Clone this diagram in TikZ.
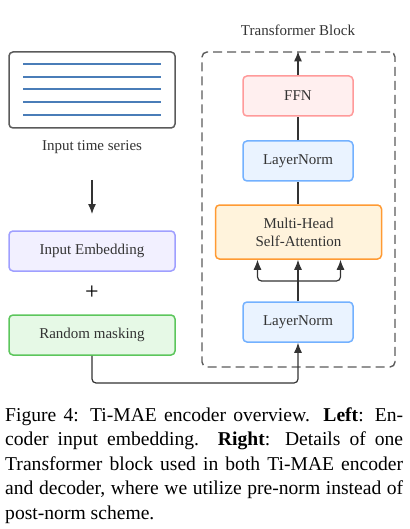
\documentclass[tikz,border=0pt]{standalone}
\usepackage{fontspec}
\usepackage{xcolor}
\usepackage{tikz}
\setmainfont{Liberation Serif}
\newfontfamily\captionfont{Liberation Serif}
\definecolor{framegray}{RGB}{90, 90, 90}
\definecolor{lineblue}{RGB}{74, 125, 184}
\definecolor{inkgray}{RGB}{51, 51, 51}
\definecolor{embedfill}{RGB}{242, 240, 255}
\definecolor{embeddraw}{RGB}{159, 159, 255}
\definecolor{maskfill}{RGB}{230, 249, 230}
\definecolor{maskdraw}{RGB}{92, 198, 92}
\definecolor{ffnfill}{RGB}{255, 239, 239}
\definecolor{ffndraw}{RGB}{255, 154, 154}
\definecolor{normfill}{RGB}{234, 243, 255}
\definecolor{normdraw}{RGB}{115, 177, 255}
\definecolor{attnfill}{RGB}{255, 243, 220}
\definecolor{attndraw}{RGB}{255, 154, 51}
\usetikzlibrary{arrows.meta,calc}

\begin{document}
\begin{tikzpicture}[
    x=1pt, y=-1pt,
    flow/.style={-{Latex[length=10pt,width=8pt]}, line width=1.2pt, inkgray},
    link/.style={line width=1.2pt, inkgray},
    block/.style={rectangle, rounded corners=4pt, line width=1.5pt, minimum width=166pt, minimum height=40pt, align=center, font=\fontsize{15}{18}\selectfont, text=inkgray},
    seriesline/.style={line width=1.4pt, lineblue}
]
    \useasboundingbox (0,0) rectangle (409,529);

    % Left: input embedding
    \node[block, draw=framegray, minimum height=76pt] (series) at (92,90) {};
    \foreach \y in {64,77,89,102,115}
        \draw[seriesline] (23,\y) -- (161,\y);
    \node[font=\fontsize{15}{18}\selectfont, text=inkgray] (serieslabel) at (92,147) {Input time series};

    \coordinate (arrtop) at (92,180);
    \coordinate (arrend) at (92,214);
    \draw[flow] (arrtop) -- (arrend);

    \node[block, draw=embeddraw, fill=embedfill] (embed) at (92,251) {Input Embedding};
    \node[font=\fontsize{24}{24}\selectfont] (plus) at (92,293) {+};
    \node[block, draw=maskdraw, fill=maskfill] (mask) at (92,335) {Random masking};

    % Right: transformer block
    \node[font=\fontsize{15}{18}\selectfont, text=inkgray] (blocklabel) at (298,30) {Transformer Block};
    \node[draw=framegray, dashed, dash pattern=on 9pt off 5pt, line width=1.4pt, rounded corners=5pt,
          minimum width=193pt, minimum height=315pt] (blk) at (298.5,209.5) {};

    \node[block, draw=ffndraw, fill=ffnfill, minimum width=110pt] (ffn) at (298,96) {FFN};
    \node[block, draw=normdraw, fill=normfill, minimum width=110pt] (ln2) at (298,161) {LayerNorm};
    \node[block, draw=attndraw, fill=attnfill, minimum height=54pt] (mhsa) at (298.5,232) {Multi-Head\\Self-Attention};
    \node[block, draw=normdraw, fill=normfill, minimum width=110pt] (ln1) at (298,322) {LayerNorm};

    % Connectors
    \coordinate (bend) at (298,383);
    \draw[flow, rounded corners=4pt] (mask.south) |- (bend) -- (ln1.south);
    \coordinate (split) at (298,281);
    \draw[link] (ln1.north) -- (split);
    \draw[flow] (split) -- (split |- mhsa.south);
    \draw[flow, rounded corners=4pt] (split) -| ([xshift=-41pt]mhsa.south);
    \draw[flow, rounded corners=4pt] (split) -| ([xshift=42pt]mhsa.south);
    \draw[link] (ln2.south |- mhsa.north) -- (ln2.south);
    \draw[link] (ln2.north) -- (ffn.south);
    \draw[flow] (ffn.north) -- (blk.north -| ffn.north);

    % Caption
    \node[anchor=north west, inner sep=0pt, text width=398pt, align=justify,
          font=\captionfont\fontsize{19.6}{24.5}\selectfont] (caption) at (5,407)
        {Figure 4: Ti-MAE encoder overview. \textbf{Left}: En-\linebreak
         coder input embedding. \textbf{Right}: Details of one\linebreak
         Transformer block used in both Ti-MAE encoder\linebreak
         and decoder, where we utilize pre-norm instead of\linebreak
         post-norm scheme.};
\end{tikzpicture}
\end{document}
